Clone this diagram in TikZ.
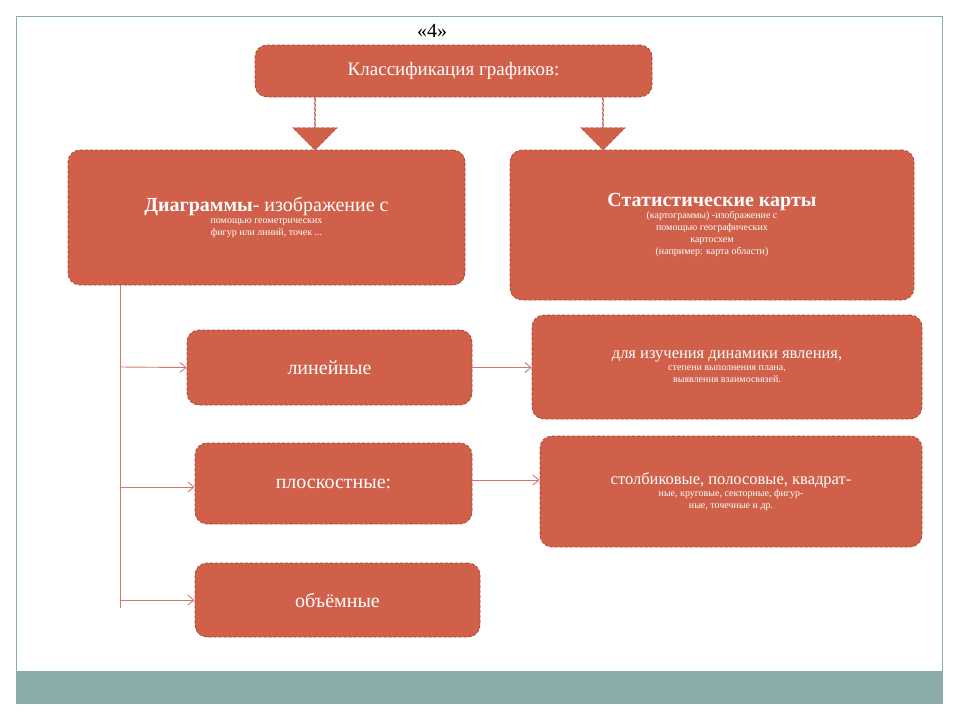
\documentclass[tikz,border=0pt]{standalone}
\usepackage{fontspec}
\setmainfont{Liberation Serif}
\usetikzlibrary{arrows.meta,shapes.arrows}
\definecolor{boxfill}{HTML}{D0604A}
\definecolor{boxline}{HTML}{A64A38}
\definecolor{linec}{HTML}{D2786A}
\definecolor{teal}{HTML}{8AACAA}
\tikzset{
 bx/.style={draw=boxline,densely dashed,line width=0.8pt,fill=boxfill,rounded corners=12pt,text=white,align=center,inner sep=0pt},
 conn/.style={draw=linec,line width=0.9pt,-{Straight Barb[length=6pt,width=10pt]}},
 bigarr/.style={single arrow,draw=boxline,densely dashed,fill=boxfill,minimum width=45pt,single arrow head extend=0pt,single arrow tip angle=90,shape border rotate=270,inner sep=0pt,minimum height=53pt,single arrow head extend=11pt}
}
\begin{document}
\begin{tikzpicture}[x=1pt,y=-1pt]
\useasboundingbox (0,0) rectangle (960,720);
\fill[teal] (16,671) rectangle (942,704);
\draw[teal,line width=1pt] (16,704) -- (16,16) -- (942,16) -- (942,704);
\node (four) at (432,31) {\fontsize{20}{22}\selectfont «4»};
\node[bx,minimum width=397pt,minimum height=52pt] (title) at (453.5,71) {\fontsize{19}{22}\selectfont Классификация графиков:};
\node[bigarr] (a1) at (315,123.5) {};
\node[bigarr] (a2) at (603,123.5) {};
\node[bx,minimum width=397pt,minimum height=135pt] (diag) at (266.5,217.5) {\fontsize{20}{25}\selectfont\textbf{Диаграммы}- изображение с\\ помощью геометрических\\ фигур или линий, точек ...};
\node[bx,minimum width=404pt,minimum height=150pt] (stat) at (712,225) {\fontsize{20}{25}\selectfont\textbf{Статистические карты}\\ (картограммы) -изображение с\\ помощью географических\\ картосхем\\ (например: карта области)};
\node[bx,minimum width=285pt,minimum height=75pt] (lin) at (329.5,367.5) {\fontsize{20}{24}\selectfont линейные};
\node[bx,minimum width=277pt,minimum height=81pt] (plo) at (333.5,483.5) {\fontsize{20}{24}\selectfont плоскостные:};
\node[bx,minimum width=285pt,minimum height=74pt] (obj) at (337.5,600) {\fontsize{20}{24}\selectfont объёмные};
\node[bx,minimum width=390pt,minimum height=104pt] (r1) at (727,367) {\fontsize{16.5}{22}\selectfont для изучения динамики явления,\\ степени выполнения плана,\\ выявления взаимосвязей.};
\node[bx,minimum width=382pt,minimum height=111pt] (r2) at (731,491.5) {\fontsize{16.5}{22}\selectfont столбиковые, полосовые, квадрат-\\ ные, круговые, секторные, фигур-\\ ные, точечные и др.};
\coordinate (vt) at (120,285);
\coordinate (vb) at (120,608);
\draw[linec,line width=0.9pt] (vt) -- (vb);
\draw[conn] (120,367) -- (lin.west);
\draw[conn] (120,487) -- (plo.west |- 0,487);
\draw[conn] (120,600) -- (obj.west);
\draw[conn] (lin.east) -- (r1.west |- lin.east);
\draw[conn] (plo.east |- 0,480) -- (r2.west |- 0,480);
\end{tikzpicture}
\end{document}
